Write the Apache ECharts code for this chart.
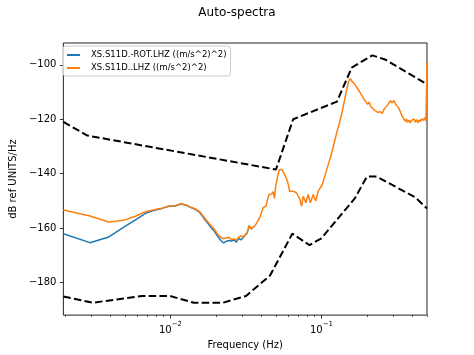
<!DOCTYPE html>
<html><head><meta charset="utf-8">
<script src="https://cdn.jsdelivr.net/npm/echarts@6/dist/echarts.min.js"></script>
<style>html,body{margin:0;padding:0;background:#fff}#c{width:474px;height:355px}</style>
</head><body><div id="c"></div>
<script>
// Frequencies (Hz) of the low-frequency bins
const freqLow = [0.001953,0.00293,0.003906,0.004883,0.005859,0.006836,0.007813,0.008789,0.009766,0.010742,
  0.011719,0.012695,0.013672,0.014648,0.015625,0.016602,0.017578,0.018555,0.019531,0.020508,
  0.021484,0.022461,0.023438,0.024414,0.025391,0.026367,0.027344,0.02832,0.029297,0.030273,
  0.03125,0.032227,0.033203,0.03418,0.035156,0.036133,0.037109,0.038086,0.039063,0.040039,
  0.041016,0.041992,0.042969,0.043945,0.044922,0.045898,0.046875,0.047852,0.048828,0.049805,
  0.050781,0.051758,0.052734,0.053711,0.054688,0.055664,0.056641,0.057617,0.058594,0.05957,
  0.060547,0.061523,0.0625];
// XS.S11D..LHZ (orange), dB, low-frequency part
const orangeLow = [-153.4,-155.6,-157.8,-157.2,-155.7,-154.0,-153.3,-152.7,-151.9,-151.8,
  -151.1,-151.5,-152.4,-153.0,-154.0,-155.9,-157.6,-159.2,-160.5,-162.3,
  -163.4,-163.9,-163.6,-163.5,-164.2,-164.0,-164.5,-163.4,-162.9,-163.3,
  -162.5,-161.6,-159.1,-160.2,-159.7,-159.3,-158.3,-157.8,-156.1,-154.4,
  -152.6,-153.2,-151.9,-149.5,-147.7,-148.4,-147.5,-146.6,-149.1,-144.4,
  -142.2,-140.0,-138.5,-137.9,-138.5,-139.2,-140.0,-140.7,-141.8,-142.9,
  -144.4,-146.5,-145.9];
// XS.S11D.-ROT.LHZ (blue), dB, on the first bins of freqLow
const blueLow = [-162.1,-165.4,-163.3,-159.8,-157.0,-154.6,-153.5,-152.8,-152.0,-151.9,
  -151.2,-151.6,-152.5,-153.2,-154.3,-156.3,-158.1,-159.8,-161.2,-163.0,
  -164.5,-165.5,-164.9,-164.6,-164.8,-164.4,-165.2,-163.8,-164.4,-163.6,
  -162.7,-161.8,-159.3,-160.3,-159.8];
// Orange, higher frequencies
const freqHigh = [0.06515,0.06846,0.07195,0.07383,0.07574,0.07878,0.08168,0.08457,0.0881,0.09162,
  0.09499,0.09731,0.1014,0.105,0.1093,0.1135,0.1179,0.1224,0.1271,0.132,
  0.1371,0.1423,0.1467,0.1507,0.1553,0.158,0.1611,0.165,0.1693,0.173,
  0.1779,0.182,0.1873,0.192,0.1968,0.202,0.207,0.212,0.2178,0.223,
  0.229,0.236,0.2443,0.2533,0.259,0.2662,0.273,0.2798,0.287,0.2945,
  0.302,0.3095,0.317,0.3254,0.334,0.3424,0.351,0.36,0.366,0.372,
  0.38,0.3882,0.395,0.403,0.41,0.4185,0.426,0.435,0.443,0.4516,
  0.46,0.4746,0.482,0.492,0.499,0.5];
const orangeHigh = [-146.5,-147.1,-149.5,-152.0,-148.3,-150.7,-147.7,-150.7,-147.7,-150.1,
  -146.5,-147.1,-144.0,-141.1,-137.8,-134.9,-131.6,-127.9,-124.3,-121.0,
  -117.3,-112.9,-109.3,-106.3,-105.0,-105.8,-105.4,-106.9,-107.0,-108.6,
  -108.9,-110.6,-111.1,-112.8,-112.9,-114.5,-113.7,-115.3,-114.8,-116.5,
  -116.1,-117.5,-117.2,-117.8,-116.4,-116.4,-114.9,-115.0,-113.2,-114.0,
  -113.1,-114.4,-114.6,-115.9,-116.6,-118.9,-119.2,-120.8,-119.9,-121.1,
  -120.3,-121.4,-120.4,-120.9,-119.9,-121.1,-120.1,-121.3,-120.2,-121.0,
  -119.9,-120.4,-119.4,-120.6,-120.0,-98.9];
// Peterson low / high noise models
const nlnmFreq = [0.001953,0.003049,0.006494,0.009901,0.01429,0.02222,0.03165,0.04566,0.0641,0.08333,0.1,0.1667,0.2,0.2326,0.4167,0.5];
const nlnmDb = [-185.2,-187.5,-185.0,-185.0,-187.5,-187.5,-185.0,-177.5,-162.1,-166.3,-163.8,-149.0,-141.1,-141.1,-148.7,-152.8];
const nhnmFreq = [0.001953,0.002818,0.05,0.06494,0.1266,0.1587,0.2174,0.2632,0.5];
const nhnmDb = [-121.0,-126.0,-138.5,-120.0,-113.5,-101.0,-96.5,-98.0,-107.1];
// Ticks
const xMajorTicks = [0.01, 0.1];
const xMinorTicks = [0.002,0.003,0.004,0.005,0.006,0.007,0.008,0.009,0.02,0.03,0.04,0.05,0.06,0.07,0.08,0.09,0.2,0.3,0.4,0.5];
const yTicks = [-180,-160,-140,-120,-100];
const xRange = [0.001953, 0.5];
const yRange = [-192.05, -91.95];
const seriesNames = ['XS.S11D.-ROT.LHZ ((m/s^2)^2)', 'XS.S11D..LHZ ((m/s^2)^2)'];

const ff = 'DejaVu Sans';
const lg = v => Math.log10(v);
function pts(fs, vs) { return vs.map((v, i) => [lg(fs[i]), v]); }
const orangeF = freqLow.concat(freqHigh), orangeV = orangeLow.concat(orangeHigh);

const chart = echarts.init(document.getElementById('c'), null, {renderer: 'canvas'});
const xMin = lg(xRange[0]), xMax = lg(xRange[1]);
chart.setOption({
  animation: false,
  backgroundColor: '#fff',
  title: {text: 'Auto-spectra', left: 'center', top: 2,
    textStyle: {fontSize: 12, fontWeight: 'normal', color: '#000', fontFamily: ff}},
  grid: {left: 60, top: 43, width: 367, height: 273, show: true, borderColor: '#222', borderWidth: 1},
  legend: {
    left: 63, top: 46, orient: 'vertical', padding: [4, 4, 3, 4], itemGap: 3,
    itemWidth: 13, itemHeight: 2, icon: 'rect',
    backgroundColor: 'rgba(255,255,255,0.8)', borderColor: '#cccccc', borderWidth: 1, borderRadius: 3,
    textStyle: {fontFamily: ff, fontSize: 8.5, color: '#000', lineHeight: 10, padding: [0, 0, 0, 6]},
    data: seriesNames
  },
  xAxis: [{
    type: 'value', min: xMin, max: xMax, gridIndex: 0, position: 'bottom',
    axisLine: {show: false}, splitLine: {show: false},
    axisTick: {show: true, length: 3.5, customValues: xMajorTicks.map(lg), lineStyle: {color: '#000', width: 0.8}},
    axisLabel: {customValues: xMajorTicks.map(lg), margin: 6,
      formatter: v => '{b|10}{s|' + String(Math.round(v)).replace('-', '\u2212') + '}',
      rich: {b: {fontSize: 10, fontFamily: ff, color: '#000', verticalAlign: 'bottom', lineHeight: 14},
             s: {fontSize: 7, fontFamily: ff, color: '#000', verticalAlign: 'top', lineHeight: 14}}},
    name: 'Frequency (Hz)', nameLocation: 'middle', nameGap: 22,
    nameTextStyle: {fontSize: 10, color: '#000', fontFamily: ff}
  }, {
    type: 'value', min: xMin, max: xMax, gridIndex: 0, position: 'bottom',
    axisLine: {show: false}, splitLine: {show: false}, axisLabel: {show: false},
    axisTick: {show: true, length: 2, customValues: xMinorTicks.map(lg), lineStyle: {color: '#000', width: 0.6}}
  }],
  yAxis: {
    type: 'value', min: yRange[0], max: yRange[1],
    axisLine: {show: false}, splitLine: {show: false},
    axisTick: {show: true, length: 3.5, customValues: yTicks, lineStyle: {color: '#000', width: 0.8}},
    axisLabel: {customValues: yTicks, margin: 7, fontSize: 10, color: '#000', fontFamily: ff,
      formatter: v => String(v).replace('-', '\u2212')},
    name: 'dB ref UNITS/Hz', nameLocation: 'middle', nameGap: 40,
    nameTextStyle: {fontSize: 10, color: '#000', fontFamily: ff}
  },
  series: [
    {name: seriesNames[0], type: 'line', xAxisIndex: 0, showSymbol: false, symbol: 'none', color: '#1f77b4',
     lineStyle: {width: 1.5, color: '#1f77b4'}, data: pts(freqLow, blueLow)},
    {name: seriesNames[1], type: 'line', xAxisIndex: 0, showSymbol: false, symbol: 'none', color: '#ff7f0e',
     lineStyle: {width: 1.5, color: '#ff7f0e'}, data: pts(orangeF, orangeV)},
    {name: 'NLNM', type: 'line', xAxisIndex: 0, showSymbol: false, symbol: 'none', color: '#000',
     lineStyle: {width: 2, color: '#000', type: [7.5, 3.3]}, data: pts(nlnmFreq, nlnmDb)},
    {name: 'NHNM', type: 'line', xAxisIndex: 0, showSymbol: false, symbol: 'none', color: '#000',
     lineStyle: {width: 2, color: '#000', type: [7.5, 3.3]}, data: pts(nhnmFreq, nhnmDb)}
  ]
});
</script></body></html>
